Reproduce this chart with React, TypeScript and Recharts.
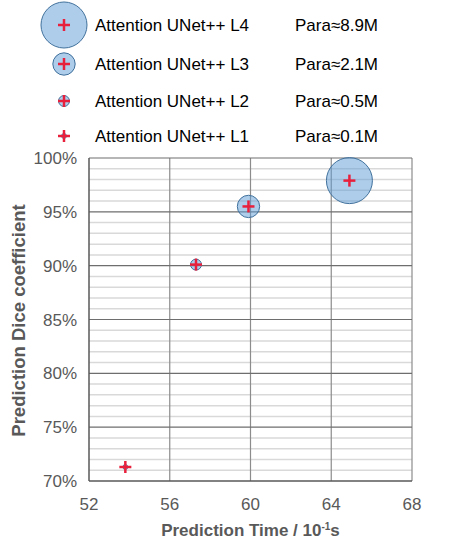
import {
  ReferenceLine,
  Scatter,
  ScatterChart,
  XAxis,
  YAxis,
  ZAxis,
} from "recharts";

const models = [
  "Attention UNet++ L4",
  "Attention UNet++ L3",
  "Attention UNet++ L2",
  "Attention UNet++ L1",
];
const predTime = [64.9, 59.9, 57.3, 53.8];
const dice = [97.9, 95.5, 90.1, 71.3];
const params = [8.9, 2.1, 0.5, 0.1];
const paraLabels = ["Para≈8.9M", "Para≈2.1M", "Para≈0.5M", "Para≈0.1M"];

const xTicks = [52, 56, 60, 64, 68];
const yTicks = [70, 75, 80, 85, 90, 95, 100];
const yMinor = [
  71, 72, 73, 74, 76, 77, 78, 79, 81, 82, 83, 84, 86, 87, 88, 89, 91, 92, 93,
  94, 96, 97, 98, 99,
];

const data = models.map((name, i) => ({
  name,
  time: predTime[i],
  dice: dice[i],
  params: params[i],
}));

const FONT = "'Liberation Sans', Arial, sans-serif";
const MAX_AREA = 1662; // bubble area for the largest model
const BLUE = "#5b9bd5";
const RED = "#e8203c";

function Cross({ cx, cy }: { cx: number; cy: number }) {
  return (
    <g>
      <line x1={cx - 6} x2={cx + 6} y1={cy} y2={cy} stroke={RED} strokeWidth={2.5} />
      <line x1={cx} x2={cx} y1={cy - 6} y2={cy + 6} stroke={RED} strokeWidth={2.5} />
    </g>
  );
}

function Bubble(props: any) {
  const { cx, cy, size, width } = props;
  const r = size != null ? Math.sqrt(size / Math.PI) : width / 2;
  return (
    <g>
      <circle cx={cx} cy={cy} r={r} fill={BLUE} fillOpacity={0.5} stroke="#41719c" strokeWidth={1} />
      <Cross cx={cx} cy={cy} />
    </g>
  );
}

function LegendBox() {
  const rows = [25, 64, 101, 136];
  return (
    <svg
      width={449}
      height={150}
      style={{ position: "absolute", left: 0, top: 0, pointerEvents: "none" }}
    >
      {models.map((m, i) => {
        const r = Math.sqrt(((params[i] / params[0]) * MAX_AREA) / Math.PI);
        return (
          <g key={m}>
            <circle cx={64} cy={rows[i]} r={r} fill={BLUE} fillOpacity={0.5} stroke="#41719c" />
            <Cross cx={64} cy={rows[i]} />
            <text x={95} y={rows[i] + 6} fontSize={17} fontFamily={FONT} fill="#000">
              {m}
            </text>
            <text x={295} y={rows[i] + 6} fontSize={17} fontFamily={FONT} fill="#000">
              {paraLabels[i]}
            </text>
          </g>
        );
      })}
    </svg>
  );
}

export default function App() {
  const tick = { fontSize: 17, fill: "#595959", fontFamily: FONT };
  return (
    <div style={{ position: "absolute", left: 0, top: 0, width: 449, height: 541, background: "#fff" }}>
      <ScatterChart width={449} height={541} margin={{ top: 158, right: 37, bottom: 0, left: 0 }}>
        <XAxis
          type="number"
          dataKey="time"
          domain={[52, 68]}
          ticks={xTicks}
          tick={tick}
          tickLine={false}
          tickMargin={11}
          axisLine={{ stroke: "#595959", strokeWidth: 1.5 }}
          height={60}
          label={{
            content: ({ viewBox }: any) => (
              <text
                x={viewBox.x + viewBox.width / 2}
                y={536}
                textAnchor="middle"
                fontSize={17}
                fontWeight="bold"
                fill="#595959"
                fontFamily={FONT}
              >
                Prediction Time / 10
                <tspan dy={-6} fontSize={10}>-1</tspan>
                <tspan dy={6}>s</tspan>
              </text>
            ),
          }}
        />
        <YAxis
          type="number"
          dataKey="dice"
          domain={[70, 100]}
          ticks={yTicks}
          tick={tick}
          tickFormatter={(v) => `${v}%`}
          tickLine={false}
          tickMargin={6}
          axisLine={{ stroke: "#595959", strokeWidth: 1.5 }}
          width={89}
          label={{
            content: ({ viewBox }: any) => {
              const cy = viewBox.y + viewBox.height / 2 + 1;
              return (
                <text
                  x={25}
                  y={cy}
                  transform={`rotate(-90 25 ${cy})`}
                  textAnchor="middle"
                  fontSize={18.5}
                  fontWeight="bold"
                  fill="#595959"
                  fontFamily={FONT}
                >
                  Prediction Dice coefficient
                </text>
              );
            },
          }}
        />
        <ZAxis type="number" dataKey="params" domain={[0, params[0]]} range={[0, MAX_AREA]} />
        {yMinor.map((v) => (
          <ReferenceLine key={`m${v}`} y={v} stroke="#d9d9d9" strokeWidth={1.5} />
        ))}
        {xTicks.slice(1).map((v) => (
          <ReferenceLine key={`x${v}`} x={v} stroke="#8c8c8c" strokeWidth={1.2} />
        ))}
        {yTicks.slice(1).map((v) => (
          <ReferenceLine key={`y${v}`} y={v} stroke="#6e6e6e" strokeWidth={1.2} />
        ))}
        <Scatter data={data} shape={Bubble} isAnimationActive={false} />
      </ScatterChart>
      <LegendBox />
    </div>
  );
}
